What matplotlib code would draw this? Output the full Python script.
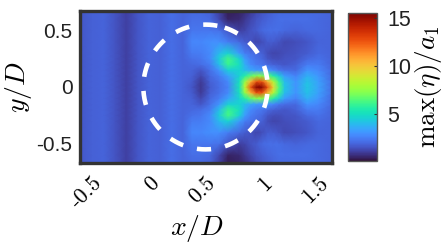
import numpy as np
import matplotlib
matplotlib.use("Agg")
import matplotlib.pyplot as plt
from matplotlib.colors import Normalize

plt.rcParams['mathtext.fontset'] = 'cm'
plt.rcParams['font.family'] = ['Liberation Sans', 'DejaVu Sans']

x_ticks = [-0.5, 0, 0.5, 1, 1.5]
x_labels = ['-0.5', '0', '0.5', '1', '1.5']
y_ticks = [-0.5, 0, 0.5]
y_labels = ['-0.5', '0', '0.5']
cbar_ticks = [5, 10, 15]

x_grid = [-0.62, -0.5, -0.4, -0.3, -0.2, -0.1, 0.0, 0.1, 0.2, 0.3,
          0.38, 0.46, 0.54, 0.62, 0.7, 0.8, 0.85, 0.9, 0.95, 1.0, 1.05, 1.1, 1.15, 1.2, 1.3, 1.4, 1.5, 1.62]
y_grid = [0.0, 0.05, 0.1, 0.15, 0.2, 0.25, 0.3, 0.4, 0.5, 0.6, 0.67]
left_cols = [1.6, 1.8, 1.9, 1.5, 1.1, 1.6, 1.9, 1.8, 2.1, 1.9]
row_00 = [1.6, 0.9, 1.7, 2.1, 2.6, 5.2, 8.5, 12.5, 15.3, 15.2, 12.5, 9.5, 6.5, 4.2, 3.0, 4.2, 3.4, 2.1]
row_05 = [1.7, 1.0, 1.8, 2.2, 2.8, 5.0, 7.5, 10.5, 12.5, 12.5, 10.5, 8.2, 6.0, 4.0, 3.0, 4.1, 3.3, 2.1]
row_10 = [1.8, 1.3, 2.0, 2.5, 3.4, 4.6, 5.6, 6.6, 7.2, 7.2, 6.6, 5.6, 4.4, 3.2, 2.6, 3.7, 3.1, 2.0]
row_15 = [1.9, 1.6, 2.2, 3.0, 4.5, 4.6, 4.0, 3.5, 3.2, 3.1, 3.0, 2.7, 2.3, 2.1, 2.0, 3.0, 2.7, 2.0]
row_20 = [2.0, 2.1, 2.5, 4.0, 6.0, 5.0, 3.6, 2.8, 2.4, 2.3, 2.0, 1.8, 1.7, 1.6, 1.8, 2.4, 2.4, 1.9]
row_25 = [2.2, 2.3, 2.8, 4.4, 6.2, 4.6, 3.2, 2.5, 2.2, 2.0, 1.6, 1.4, 1.4, 1.5, 1.6, 2.0, 2.2, 1.9]
row_30 = [2.4, 2.5, 2.8, 3.9, 4.6, 3.2, 2.5, 2.2, 2.0, 1.8, 1.4, 1.2, 1.3, 1.4, 1.5, 1.7, 2.0, 1.9]
row_40 = [2.7, 2.7, 2.9, 2.9, 2.5, 2.0, 1.7, 1.5, 1.2, 1.4, 1.7, 1.7, 1.5, 1.3, 1.4, 1.6, 1.9, 1.9]
row_50 = [2.3, 2.3, 2.3, 2.2, 1.6, 1.1, 1.2, 1.5, 1.7, 2.0, 2.1, 2.1, 2.1, 2.0, 1.9, 2.0, 2.0, 1.9]
row_60 = [2.1, 2.1, 2.0, 1.3, 0.5, 0.6, 0.9, 1.2, 1.5, 1.7, 1.9, 2.0, 2.1, 2.1, 2.1, 2.1, 2.0, 1.9]
row_67 = [2.0, 2.0, 1.8, 1.1, 0.4, 0.5, 0.7, 1.0, 1.3, 1.5, 1.7, 1.9, 2.0, 2.0, 2.0, 2.0, 2.0, 1.9]

rows = [row_00, row_05, row_10, row_15, row_20, row_25, row_30, row_40, row_50, row_60, row_67]
half = np.array([left_cols + r for r in rows])

W, H = 448, 252
fig = plt.figure(figsize=(W / 100, H / 100), dpi=100)
ax = fig.add_axes([79.5 / W, 1 - 163 / H, 252 / W, 152 / H])

yy = np.array(y_grid)
y_full = np.concatenate([-yy[:0:-1], yy])
z_full = np.vstack([half[:0:-1], half])

norm = Normalize(0.1, 15.5)
ax.pcolormesh(x_grid, y_full, z_full, cmap='turbo', norm=norm, shading='gouraud', rasterized=True)
ax.set_xlim(-0.615, 1.615)
ax.set_ylim(-0.67, 0.67)

theta = np.radians(79) + np.linspace(0, 2 * np.pi, 500)
ax.plot(0.5 + 0.55 * np.cos(theta), 0.55 * np.sin(theta), color='white', lw=3.3,
        dashes=(3.1, 3.1), dash_capstyle='butt')

ax.set_xticks(x_ticks, x_labels, rotation=45, family='cmr10', fontsize=16, ha='right', rotation_mode='anchor')
ax.set_yticks(y_ticks, y_labels, fontsize=15, color='#222222')
ax.tick_params(length=0, pad=5)
ax.tick_params(axis='x', pad=7)
for s in ax.spines.values():
    s.set_linewidth(2.4)
    s.set_color('#333333')
ax.set_xlabel(r'$x/D$', fontsize=20, va='center')
ax.xaxis.set_label_coords(0.466, -0.43)
ax.set_ylabel(r'$y/D$', fontsize=20, va='center')
ax.yaxis.set_label_coords(-0.244, 0.5)

cax = fig.add_axes([347.5 / W, 1 - 161 / H, 29 / W, 148 / H])
sm = plt.cm.ScalarMappable(norm=norm, cmap='turbo')
cb = fig.colorbar(sm, cax=cax, ticks=cbar_ticks)
cb.ax.tick_params(length=2, direction='in', labelsize=15.5, pad=8, labelcolor='#222222', color='#333333', width=0.8)
cb.outline.set_edgecolor('#555555')
cb.outline.set_linewidth(1.0)
cb.set_label(r'$\mathrm{max}(\eta)/a_1$', fontsize=19.5, labelpad=1)

fig.savefig('out.png', dpi=100)
